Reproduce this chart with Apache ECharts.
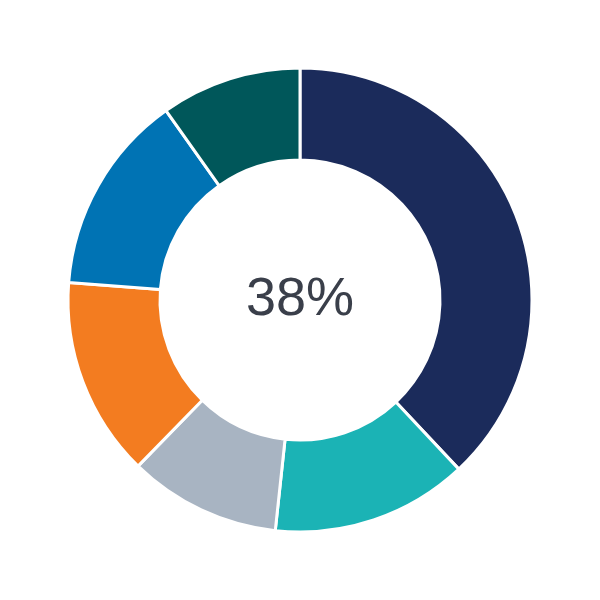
<!DOCTYPE html>
<html>
<head>
<meta charset="utf-8">
<script src="https://cdn.jsdelivr.net/npm/echarts@6/dist/echarts.min.js"></script>
<style>html,body{margin:0;padding:0;background:#fff}#c{width:600px;height:600px}</style>
</head>
<body>
<div id="c"></div>
<script>
var categories = ['A', 'B', 'C', 'D', 'E', 'F'];
var values = [38, 13.7, 10.6, 13.9, 14, 9.8];
var colors = ['#1b2b5b', '#1bb3b5', '#a8b4c2', '#f37c20', '#0073b4', '#00575a'];
var centerLabel = '38%';

var chart = echarts.init(document.getElementById('c'));
chart.setOption({
  animation: false,
  color: colors,
  graphic: [{
    type: 'text',
    left: 'center',
    top: 'middle',
    style: { text: centerLabel, fontSize: 54, fontFamily: 'Liberation Sans, Arial, sans-serif', fill: '#3a3f4a' }
  }],
  series: [{
    type: 'pie',
    center: [300, 300],
    radius: [140, 232],
    startAngle: 90,
    clockwise: true,
    label: { show: false },
    labelLine: { show: false },
    itemStyle: { borderColor: '#fff', borderWidth: 3 },
    data: categories.map(function (c, i) { return { name: c, value: values[i] }; })
  }]
});
</script>
</body>
</html>
